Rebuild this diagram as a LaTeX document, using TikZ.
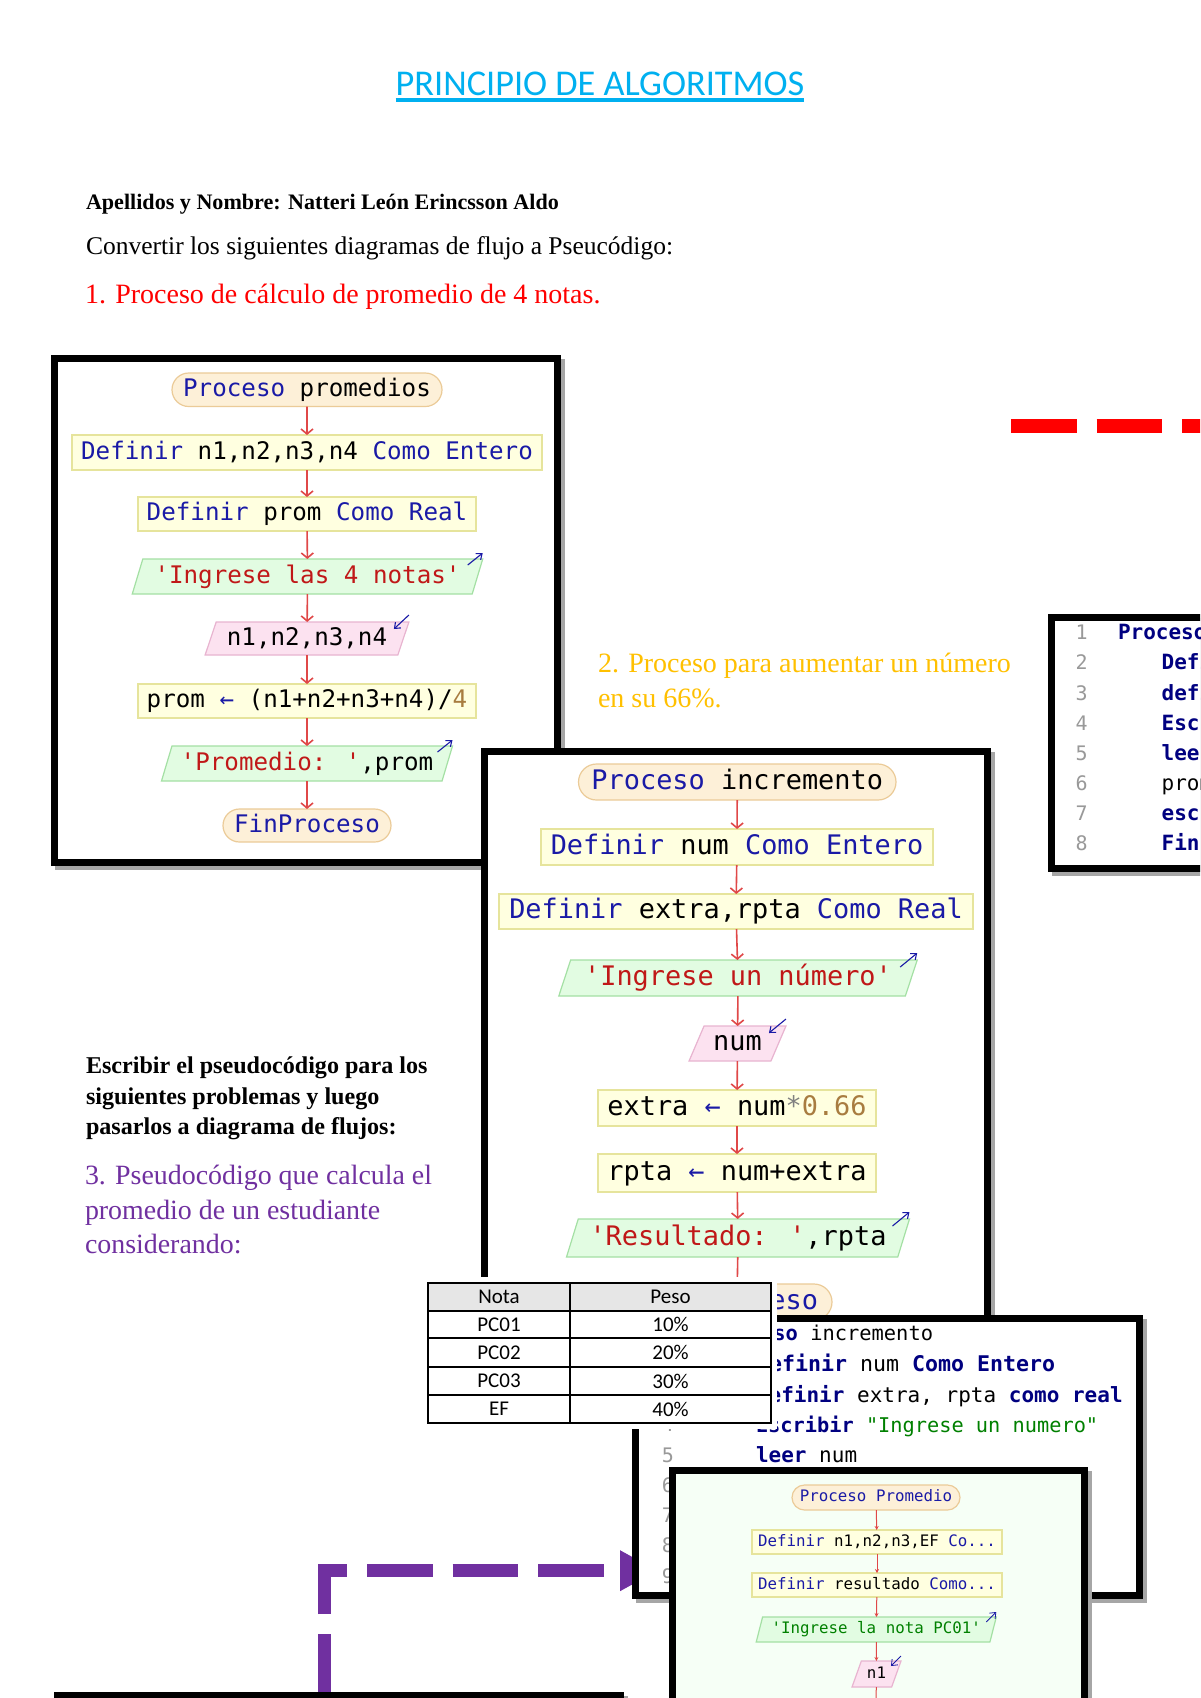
\documentclass[tikz,border=0pt]{standalone}
\usepackage{fontspec}
\setmainfont{Liberation Serif}
\newfontfamily\flowf{DejaVu Sans Mono}
\newfontfamily\calf{Carlito}
\usetikzlibrary{shapes.geometric,shapes.misc,arrows.meta,calc}
\definecolor{termfill}{HTML}{FDF0D8}
\definecolor{termline}{HTML}{EBCB98}
\definecolor{procfill}{HTML}{FFFFE0}
\definecolor{procline}{HTML}{E6E49C}
\definecolor{outfill}{HTML}{E2FCE2}
\definecolor{outline}{HTML}{A4E0A4}
\definecolor{inpfill}{HTML}{FCE2F0}
\definecolor{inpline}{HTML}{E8B4D0}
\definecolor{kwblue}{HTML}{1A1AA6}
\definecolor{strred}{HTML}{C01818}
\definecolor{numbrown}{HTML}{A87C40}
\definecolor{flowred}{HTML}{E04848}
\definecolor{titleblue}{HTML}{00B0F0}
\definecolor{gold}{HTML}{FFC000}
\definecolor{purp}{HTML}{7030A0}
\definecolor{shadowgray}{HTML}{A6A6A6}
\definecolor{headgray}{HTML}{E6E6E6}
\definecolor{navycode}{HTML}{000080}
\definecolor{strgreen}{HTML}{008000}
\definecolor{paleback}{HTML}{F6FFF6}
\newcommand{\kw}[1]{\textcolor{kwblue}{#1}}
\newcommand{\st}[1]{\textcolor{strred}{#1}}
\newcommand{\nm}[1]{\textcolor{numbrown}{#1}}
\newcommand{\kc}[1]{\textcolor{navycode}{\bfseries #1}}
\newcommand{\panel}[5]{%
  \fill[shadowgray] (#1+4,#2+4) rectangle (#3+4,#4+4);
  \draw[line width=7pt,draw=black,fill=#5] (#1+3.5,#2+3.5) rectangle (#3-3.5,#4-3.5);}
\newcommand{\fnode}[7]{%
  \node[#1,minimum width={#4-#3},minimum height={#6-#5}] (#2) at ({(#3+#4)/2},{(#5+#6)/2}) {#7};}
\tikzset{
  flowbase/.style={inner sep=0pt,outer sep=0pt,line width=1.2pt,align=center,text=black},
  fa/.style={font=\flowf\fontsize{24.2}{24.2}\selectfont,text height=17.5pt,text depth=4.5pt},
  fb/.style={font=\flowf\fontsize{26.9}{26.9}\selectfont,text height=19.5pt,text depth=5pt},
  fc/.style={font=\flowf\fontsize{15.8}{15.8}\selectfont,text height=11.5pt,text depth=3pt},
  termbox/.style={flowbase,rounded rectangle,draw=termline,fill=termfill},
  procbox/.style={flowbase,rectangle,draw=procline,fill=procfill},
  outbox/.style={flowbase,trapezium,trapezium left angle=66,trapezium right angle=114,trapezium stretches=true,draw=outline,fill=outfill},
  inpbox/.style={flowbase,trapezium,trapezium left angle=66,trapezium right angle=114,trapezium stretches=true,draw=inpline,fill=inpfill},
  flowarrow/.style={draw=flowred,line width=1.6pt,-{Straight Barb[length=5pt,width=12pt]}},
  flowsmall/.style={draw=flowred,line width=1pt,-{Stealth[length=4pt,width=4pt]}},
  iomark/.style={draw=kwblue,line width=1.1pt,-{Straight Barb[length=5pt,width=8pt]}},
  doc/.style={anchor=base west,inner sep=0pt,outer sep=0pt},
  codeline/.style={doc,font=\flowf\fontsize{21}{21}\selectfont},
  lineno/.style={anchor=base,inner sep=0pt,outer sep=0pt,text=gray!80,font=\flowf\fontsize{20}{20}\selectfont},
  cell/.style={rectangle,draw=black,line width=1.2pt,inner sep=0pt,outer sep=0pt,font=\calf\fontsize{21}{21}\selectfont},
  bigdash/.style={line width=13.4pt,dash pattern=on 65.6pt off 20pt},
}
\begin{document}
\begin{tikzpicture}[x=1pt,y=-1pt]
\useasboundingbox (0,0) rectangle (1200,1698);
\clip (0,0) rectangle (1200,1698);
\fill[white] (0,0) rectangle (1200,1698);

% headings
\node[anchor=base,inner sep=0pt,outer sep=0pt,text=titleblue,font=\calf\fontsize{36.3}{36.3}\selectfont] (title) at (600,95) {PRINCIPIO DE ALGORITMOS};
\draw[titleblue,line width=3.2pt] ($(title.base west)+(0,5)$) -- ($(title.base east)+(0,5)$);
\node[doc,font=\bfseries\fontsize{22.1}{22.1}\selectfont] (names) at (86,209) {Apellidos y Nombre: Natteri León Erincsson Aldo};
\node[doc,font=\fontsize{25.5}{25.5}\selectfont] (conv) at (86,254) {Convertir los siguientes diagramas de flujo a Pseucódigo:};
\node[doc,text={red},font=\fontsize{28}{28}\selectfont] (q1) at (85,303) {1. Proceso de cálculo de promedio de 4 notas.};
\node[doc,text=gold,font=\fontsize{28}{28}\selectfont] (q2a) at (598,672) {2. Proceso para aumentar un número};
\node[doc,text=gold,font=\fontsize{28}{28}\selectfont] (q2b) at (598,707) {en su 66\%.};
\node[doc,font=\bfseries\fontsize{24.1}{24.1}\selectfont] (w1) at (86,1073) {Escribir el pseudocódigo para los};
\node[doc,font=\bfseries\fontsize{24.1}{24.1}\selectfont] (w2) at (86,1104) {siguientes problemas y luego};
\node[doc,font=\bfseries\fontsize{24.1}{24.1}\selectfont] (w3) at (86,1134) {pasarlos a diagrama de flujos:};
\node[doc,text=purp,font=\fontsize{27.9}{27.9}\selectfont] (q3a) at (85,1184) {3. Pseudocódigo que calcula el};
\node[doc,text=purp,font=\fontsize{27.9}{27.9}\selectfont] (q3b) at (85,1219) {promedio de un estudiante};
\node[doc,text=purp,font=\fontsize{27.9}{27.9}\selectfont] (q3c) at (85,1253) {considerando:};

% red dashed connector
\coordinate (rs) at (1011,426);
\coordinate (re) at (1215,426);
\draw[red,bigdash] (rs) -- (re);

% panel 1
\panel{51}{355}{561}{866}{white}
\fnode{termbox,fa}{a1}{172}{442}{373}{406.5}{\kw{Proceso} promedios}
\fnode{procbox,fa}{a2}{72}{542}{435}{470}{\kw{Definir} n1,n2,n3,n4 \kw{Como} \kw{Entero}}
\fnode{procbox,fa}{a3}{138}{476}{497}{531}{\kw{Definir} prom \kw{Como} \kw{Real}}
\fnode{outbox,fa}{a4}{132}{483}{559}{594}{\st{'Ingrese las 4 notas'}}
\fnode{inpbox,fa}{a5}{205}{409}{622}{655}{n1,n2,n3,n4}
\fnode{procbox,fa}{a6}{138}{476}{684}{718}{prom \kw{←} (n1+n2+n3+n4)/\nm{4}}
\fnode{outbox,fa}{a7}{161}{453}{746}{781}{\st{'Promedio: '},prom}
\fnode{termbox,fa}{a8}{223}{391}{809}{842}{\kw{FinProceso}}
\foreach \p/\q in {a1/a2,a2/a3,a3/a4,a4/a5,a5/a6,a6/a7,a7/a8}{\draw[flowarrow] (\p) -- (\q);}
\draw[iomark] ($(a4.top right corner)+(-15,6)$) -- ($(a4.top right corner)+(0,-6)$);
\draw[iomark] ($(a5.top right corner)+(0,-7)$) -- ($(a5.top right corner)+(-15,7)$);
\draw[iomark] ($(a7.top right corner)+(-15,6)$) -- ($(a7.top right corner)+(0,-6)$);

% panel 2
\panel{481}{748}{991}{1360}{white}
\fnode{termbox,fb}{b1}{578.5}{896}{764}{800}{\kw{Proceso} incremento}
\fnode{procbox,fb}{b2}{541}{933}{829}{865}{\kw{Definir} num \kw{Como} \kw{Entero}}
\fnode{procbox,fb}{b3}{499}{973}{894}{929}{\kw{Definir} extra,rpta \kw{Como} \kw{Real}}
\fnode{outbox,fb}{b4}{558}{918}{960}{996}{\st{'Ingrese un número'}}
\fnode{inpbox,fb}{b5}{689}{786}{1026}{1061}{num}
\fnode{procbox,fb}{b6}{598}{876}{1090}{1126}{extra \kw{←} num\textcolor{gray}{*}\nm{0.66}}
\fnode{procbox,fb}{b7}{598}{876}{1154}{1192}{rpta \kw{←} num+extra}
\fnode{outbox,fb}{b8}{566}{910}{1219}{1257}{\st{'Resultado: '},rpta}
\fnode{termbox,fb}{b9}{642}{832}{1284}{1320}{\kw{FinProceso}}
\foreach \p/\q in {b1/b2,b2/b3,b3/b4,b4/b5,b5/b6,b6/b7,b7/b8,b8/b9}{\draw[flowarrow] (\p) -- (\q);}
\draw[iomark] ($(b4.top right corner)+(-17,7)$) -- ($(b4.top right corner)+(0,-7)$);
\draw[iomark] ($(b5.top right corner)+(0,-7)$) -- ($(b5.top right corner)+(-17,7)$);
\draw[iomark] ($(b8.top right corner)+(-17,7)$) -- ($(b8.top right corner)+(0,-7)$);

% purple dashed connector
\coordinate (ps) at (324.7,1699.6);
\coordinate (pc) at (324.7,1570.7);
\coordinate (pe) at (658,1570.7);
\draw[purp,bigdash,-{Triangle[length=38pt,width=38pt]}] (ps) -- (pc) -- (pe);

% code panel 3
\panel{631.5}{1315}{1143}{1599}{white}
\foreach \n/\yy in {4/1431,5/1462,6/1492,7/1522,8/1552,9/1583}{\node[lineno] (cn\n) at (668,\yy) {\n};}
\node[codeline,font=\flowf\fontsize{20.4}{20.4}\selectfont] (c1) at (712,1340) {\kc{Proceso} incremento};
\node[codeline,font=\flowf\fontsize{21.6}{21.6}\selectfont] (c2) at (756,1371) {\kc{Definir} num \kc{Como} \kc{Entero}};
\node[codeline] (c3) at (756,1402) {\kc{Definir} extra, rpta \kc{como} \kc{real}};
\node[codeline,font=\flowf\fontsize{20.3}{20.3}\selectfont] (c4) at (756,1432) {\kc{Escribir} \textcolor{strgreen}{"Ingrese un numero"}};
\node[codeline] (c5) at (756,1462) {\kc{leer} num};

% table
\fill[white] (422,1277) rectangle (777,1429);
\foreach \nm/\xa/\xb/\ya/\yb/\tx/\col in {
  h1/428/570/1283/1311/Nota/headgray, h2/570/771/1283/1311/Peso/headgray,
  r1/428/570/1311/1338/PC01/white, s1/570/771/1311/1338/10\%/white,
  r2/428/570/1338/1367/PC02/white, s2/570/771/1338/1367/20\%/white,
  r3/428/570/1367/1395/PC03/white, s3/570/771/1367/1395/30\%/white,
  r4/428/570/1395/1423/EF/white, s4/570/771/1395/1423/40\%/white}{
  \node[cell,fill=\col,minimum width={\xb-\xa},minimum height={\yb-\ya}] (\nm) at ({(\xa+\xb)/2},{(\ya+\yb)/2}) {\tx};
}
\draw[line width=2pt] (r4.south west) -- (s4.south east);

% panel 4
\panel{669}{1467}{1088}{1760}{paleback}
\fnode{termbox,fc}{d1}{792}{960}{1485}{1510}{\kw{Proceso} \kw{Promedio}}
\fnode{procbox,fc}{d2}{752}{1002}{1530}{1554}{\kw{Definir} n1,n2,n3,EF \kw{Co...}}
\fnode{procbox,fc}{d3}{752}{1002}{1573}{1597}{\kw{Definir} resultado \kw{Como...}}
\fnode{outbox,fc,trapezium left angle=68,trapezium right angle=112}{d4}{756}{996.5}{1617}{1642}{\textcolor{strgreen}{'Ingrese la nota PC01'}}
\fnode{inpbox,fc,trapezium left angle=68,trapezium right angle=112}{d5}{852}{901}{1661}{1687}{n1}
\coordinate (dend) at (876,1705);
\foreach \p/\q in {d1/d2,d2/d3,d3/d4,d4/d5}{\draw[flowsmall] (\p) -- (\q);}
\draw[draw=flowred,line width=1pt] (d5) -- (dend);
\draw[iomark,line width=.8pt] ($(d4.top right corner)+(-10,5)$) -- ($(d4.top right corner)+(0,-5)$);
\draw[iomark,line width=.8pt] ($(d5.top right corner)+(0,-5)$) -- ($(d5.top right corner)+(-10,5)$);

% code panel 5
\panel{1047.7}{614}{1260}{872}{white}
\foreach \n/\yy in {1/639,2/669,3/700,4/730,5/760,6/790,7/820,8/850}{\node[lineno] (en\n) at (1081.7,\yy) {\n};}
\node[codeline] (e1) at (1118,639) {\kc{Proceso}};
\node[codeline] (e2) at (1161.7,669) {\kc{Definir}};
\node[codeline] (e3) at (1161.7,700) {\kc{definir}};
\node[codeline] (e4) at (1161.7,730) {\kc{Escribir}};
\node[codeline] (e5) at (1161.7,760) {\kc{leer}};
\node[codeline] (e6) at (1161.7,790) {prom};
\node[codeline] (e7) at (1161.7,820) {\kc{escribir}};
\node[codeline] (e8) at (1161.7,850) {\kc{FinProceso}};

% panel 6 at the foot
\panel{53.6}{1692}{624}{1760}{white}
\end{tikzpicture}
\end{document}
